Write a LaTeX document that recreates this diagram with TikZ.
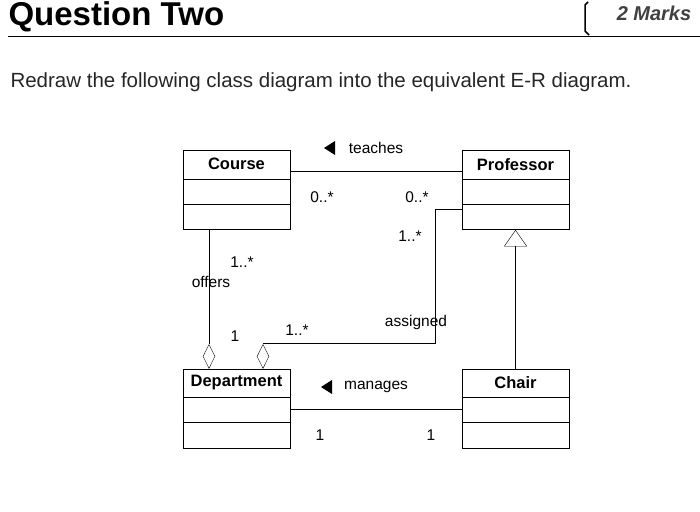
\documentclass[tikz,border=0pt]{standalone}
\usepackage{fontspec}
\setmainfont{Liberation Sans}
\usetikzlibrary{positioning, shapes.geometric}

\begin{document}
\begin{tikzpicture}[x=1pt, y=-1pt,
    umlbox/.style={rectangle, draw, thick, minimum width=107pt, minimum height=79pt, inner sep=0pt},
    title/.style={font=\fontsize{16.5}{18}\selectfont\bfseries},
    lbl/.style={font=\fontsize{15.5}{17}\selectfont, inner sep=1pt},
    aggr/.style={draw, fill=white, shape=diamond, minimum width=12pt, minimum height=24pt, inner sep=0pt},
    link/.style={draw, line width=0.6pt}
  ]
    \useasboundingbox (0,0) rectangle (700,511);
    % heading
    \node[anchor=west, font=\fontsize{33}{36}\selectfont\bfseries] (head) at (5,17) {Question Two};
    \node[font=\fontsize{20}{22}\selectfont\bfseries\itshape, text=black!75] (marks) at (654,13) {2 Marks};
    \draw[line width=1.5pt] (588,2) -- (585,5) -- (585,31) -- (589,35);
    \draw[line width=1pt] (8,37) -- (700,37);
    \node[anchor=west, font=\fontsize{20.5}{23}\selectfont, text=black!85] (task) at (7,82) {Redraw the following class diagram into the equivalent E-R diagram.};

    % classes
    \node[umlbox] (course) at (236.5,190) {};
    \node[umlbox] (prof)   at (515.5,190) {};
    \node[umlbox] (dept)   at (236.5,408.5) {};
    \node[umlbox] (chair)  at (515.5,408.5) {};
    \foreach \b/\t in {course/Course, prof/Professor, dept/Department, chair/Chair} {
      \draw[thick] ([yshift=-29pt]\b.north west) -- ([yshift=-29pt]\b.north east);
      \draw[thick] ([yshift=-54pt]\b.north west) -- ([yshift=-54pt]\b.north east);
      \node[title] (\b t) at ([yshift=-14pt]\b.north) {\t};
    }

    % teaches
    \draw[link] (course.east |- 0,171) -- (prof.west |- 0,171);
    \fill (324,148) -- (335,141) -- (335,155) -- cycle;
    \node[lbl] (teaches) at (376,148) {teaches};
    \node[lbl] (m1) at (322,197) {0..*};
    \node[lbl] (m2) at (417,197) {0..*};

    % offers
    \node[aggr, anchor=south] (dg1) at (dept.north -| 209,0) {};
    \draw[link] (course.south -| 209,0) -- (dg1.north);
    \node[lbl] (m3) at (242,262) {1..*};
    \node[lbl, fill=white, inner sep=0pt, fill opacity=0, text opacity=1] (offers) at (211,282) {offers};
    \node[lbl] (m4) at (235,336) {1};

    % assigned
    \node[aggr, anchor=south] (dg2) at (dept.north -| 263,0) {};
    \coordinate (a1) at (435,209);
    \coordinate (a2) at (435,343);
    \draw[link] (prof.west |- a1) -- (a1) -- (a2) -- (a2 -| dg2.north) -- (dg2.north);
    \node[lbl] (m5) at (410,236) {1..*};
    \node[lbl] (assigned) at (416,322) {assigned};
    \node[lbl] (m6) at (297,330) {1..*};

    % generalisation
    \node[draw, fill=white, isosceles triangle, shape border rotate=90, minimum width=18pt, minimum height=16pt, inner sep=0pt, anchor=apex, isosceles triangle apex angle=70] (gen) at (prof.south) {};
    \draw[link] (chair.north) -- (gen.south);

    % manages
    \draw[link] (dept.east |- 0,409) -- (chair.west |- 0,409);
    \fill (321,387) -- (332,380) -- (332,394) -- cycle;
    \node[lbl] (manages) at (376,387) {manages};
    \node[lbl] (m7) at (320,435) {1};
    \node[lbl] (m8) at (431,435) {1};
\end{tikzpicture}
\end{document}
